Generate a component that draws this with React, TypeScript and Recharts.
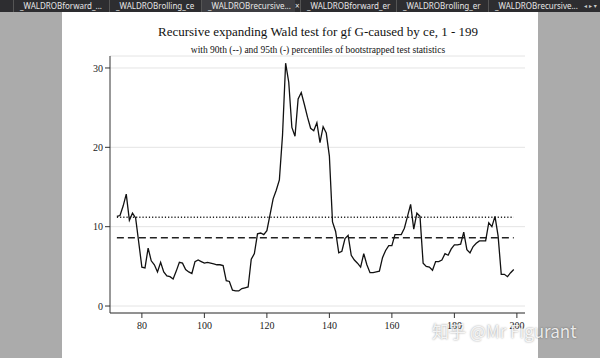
import { LineChart, Line, XAxis, YAxis, CartesianGrid } from 'recharts';

const PERIODS = [
  72, 73, 74, 75, 76, 77, 78, 79, 80, 81,
  82, 83, 84, 85, 86, 87, 88, 89, 90, 91,
  92, 93, 94, 95, 96, 97, 98, 99, 100, 101,
  102, 103, 104, 105, 106, 107, 108, 109, 110, 111,
  112, 113, 114, 115, 116, 117, 118, 119, 120, 121,
  122, 123, 124, 125, 126, 127, 128, 129, 130, 131,
  132, 133, 134, 135, 136, 137, 138, 139, 140, 141,
  142, 143, 144, 145, 146, 147, 148, 149, 150, 151,
  152, 153, 154, 155, 156, 157, 158, 159, 160, 161,
  162, 163, 164, 165, 166, 167, 168, 169, 170, 171,
  172, 173, 174, 175, 176, 177, 178, 179, 180, 181,
  182, 183, 184, 185, 186, 187, 188, 189, 190, 191,
  192, 193, 194, 195, 196, 197, 198, 199,
];

const WALD_STAT = [
  11.3, 11.4, 12.6, 14.1, 10.8, 11.7, 11.1, 8.0, 4.9, 4.8,
  7.3, 5.7, 5.2, 4.3, 5.5, 4.3, 3.8, 3.7, 3.4, 4.4,
  5.5, 5.4, 4.6, 4.3, 4.1, 5.6, 5.8, 5.6, 5.4, 5.5,
  5.4, 5.3, 5.2, 5.2, 5.1, 3.2, 3.1, 2.0, 1.9, 1.9,
  2.2, 2.3, 2.4, 5.9, 6.6, 9.1, 9.2, 9.0, 9.5, 11.5,
  13.5, 14.6, 15.9, 21.5, 30.6, 28.2, 22.5, 21.4, 26.1, 26.9,
  25.4, 23.8, 22.4, 22.1, 23.1, 20.6, 22.6, 21.8, 18.9, 10.6,
  9.4, 6.7, 6.9, 8.5, 8.9, 6.4, 5.8, 5.4, 4.9, 6.6,
  5.2, 4.2, 4.2, 4.3, 4.4, 6.1, 7.0, 7.6, 7.6, 9.0,
  9.0, 9.0, 9.8, 11.3, 12.8, 9.7, 11.7, 11.3, 5.4, 5.0,
  4.9, 4.5, 5.6, 5.6, 5.8, 6.6, 6.4, 7.2, 7.7, 7.7,
  7.8, 9.3, 7.1, 6.7, 7.5, 7.9, 8.2, 8.2, 8.2, 10.5,
  10.0, 11.3, 8.8, 4.0, 4.0, 3.7, 4.2, 4.6,
];

// bootstrapped critical values
const P90 = 8.6;
const P95 = 11.2;

const X_TICKS = [80, 100, 120, 140, 160, 180, 200];
const Y_TICKS = [0, 10, 20, 30];

const TABS = [
  '_WALDROBforward_...',
  '_WALDROBrolling_ce',
  '_WALDROBrecursive...',
  '_WALDROBforward_er',
  '_WALDROBrolling_er',
  '_WALDROBrecursive...',
];
const TAB_LEFT = [19, 115, 207, 306, 402, 494];

const data = PERIODS.map((period, i) => ({
  period,
  wald: WALD_STAT[i],
  p90: P90,
  p95: P95,
}));

const serif = '"Liberation Serif", "Times New Roman", serif';
const tickStyle = { fontFamily: serif, fontSize: 10, fill: '#222' };

export default function App() {
  return (
    <div style={{ position: 'absolute', left: 0, top: 0, width: 600, height: 358, background: '#ababab', overflow: 'hidden' }}>
      {/* window tab strip */}
      <div style={{ position: 'absolute', left: 0, top: 0, width: 600, height: 12, background: '#2d2d30' }}>
        {TABS.map((t, i) => (
          <div
            key={i}
            style={{
              position: 'absolute',
              left: TAB_LEFT[i] - 6,
              top: 0,
              height: 12,
              width: i === 2 ? 94 : 90,
              background: i === 2 ? '#3e3e42' : 'transparent',
              borderLeft: '1px solid #555',
              color: '#e6e6e6',
              fontFamily: '"Noto Sans", sans-serif',
              fontSize: 8,
              lineHeight: '12px',
              paddingLeft: 6,
              boxSizing: 'border-box',
              whiteSpace: 'nowrap',
            }}
          >
            {t}
            {i === 2 ? <span style={{ marginLeft: 4 }}>×</span> : null}
          </div>
        ))}
        <div style={{ position: 'absolute', left: 584, top: 0, color: '#ccc', fontSize: 6, lineHeight: '12px', fontFamily: '"DejaVu Sans", sans-serif' }}>◂ ▸ ▾</div>
      </div>

      {/* graph page */}
      <div style={{ position: 'absolute', left: 62, top: 12, width: 476, height: 346, background: '#fff' }} />

      <div style={{ position: 'absolute', left: 0, top: 24, width: 636, textAlign: 'center', fontFamily: serif, fontSize: 13, color: '#111', lineHeight: '16px' }}>
        Recursive expanding Wald test for gf G-caused by ce, 1 - 199
      </div>
      <div style={{ position: 'absolute', left: 0, top: 44, width: 636, textAlign: 'center', fontFamily: serif, fontSize: 9.5, color: '#111', lineHeight: '12px' }}>
        with 90th (--) and 95th (-) percentiles of bootstrapped test statistics
      </div>

      <div style={{ position: 'absolute', left: 0, top: 0 }}>
        <LineChart width={600} height={358} data={data} margin={{ top: 56, right: 75, bottom: 15, left: 70 }}>
          <CartesianGrid vertical={false} stroke="#e4e4e4" strokeWidth={1} />
          <XAxis
            dataKey="period"
            type="number"
            domain={[69.8, 202.6]}
            allowDataOverflow
            ticks={X_TICKS}
            tick={tickStyle}
            tickSize={5}
            tickMargin={4}
            height={30}
            stroke="#333"
            interval={0}
          />
          <YAxis
            type="number"
            domain={[-0.88, 31.51]}
            allowDataOverflow
            ticks={Y_TICKS}
            tick={tickStyle}
            tickSize={5}
            tickMargin={2}
            width={40}
            stroke="#333"
            interval={0}
          />
          <Line dataKey="p95" stroke="#222" strokeWidth={1.5} strokeDasharray="1.2 2" dot={false} isAnimationActive={false} />
          <Line dataKey="p90" stroke="#222" strokeWidth={1.4} strokeDasharray="7 4" dot={false} isAnimationActive={false} />
          <Line dataKey="wald" type="linear" stroke="#111" strokeWidth={1.3} dot={false} isAnimationActive={false} />
        </LineChart>
      </div>

      <div
        style={{
          position: 'absolute',
          left: 432,
          top: 318,
          fontFamily: '"Noto Sans CJK SC", "Noto Sans", sans-serif',
          fontSize: 17,
          color: 'rgba(255,255,255,0.85)',
          textShadow: '0 0 2px rgba(0,0,0,0.45)',
          whiteSpace: 'nowrap',
        }}
      >
        知乎 @Mr Figurant
      </div>
    </div>
  );
}
